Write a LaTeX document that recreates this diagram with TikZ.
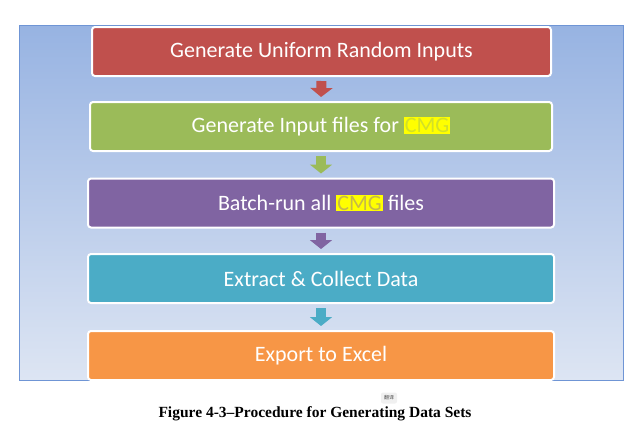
\documentclass[tikz,border=0pt]{standalone}
\usepackage{fontspec}
\setmainfont{Carlito}
\newfontfamily\capfont{Liberation Serif}
\newfontfamily\cjk{Noto Sans CJK SC}
\usetikzlibrary{arrows.meta,calc}
\definecolor{cRed}{HTML}{C0504D}
\definecolor{cGreen}{HTML}{9BBB59}
\definecolor{cPurple}{HTML}{8064A2}
\definecolor{cTeal}{HTML}{4BACC6}
\definecolor{cOrange}{HTML}{F79646}
\definecolor{hl}{HTML}{FFFF00}
\definecolor{frameTop}{HTML}{97B3E2}
\definecolor{frameBot}{HTML}{DDE5F3}
\definecolor{frameLine}{HTML}{6F95D5}
\newcommand{\hlword}[2]{{\setlength{\fboxsep}{1pt}\colorbox{hl}{\textcolor{hl!55!#1}{#2}}}}
\begin{document}
\begin{tikzpicture}[x=1pt,y=-1pt,
  step/.style={draw=white,line width=2pt,rounded corners=3pt,minimum width=#1,minimum height=49pt,
    text=white,font=\fontsize{22}{26}\selectfont,inner sep=0pt},
  step/.default=464pt,
  flow/.style={draw=#1,line width=10pt,-{Triangle[width=22pt 0,length=9pt 0]},shorten >=4pt,shorten <=4pt}]
\useasboundingbox (0,0) rectangle (644,432);
\shade[top color=frameTop,bottom color=frameBot] (19,25) rectangle (623,380);
\draw[frameLine,line width=0.8pt] (19,25) rectangle (623,380);
\node[step=459pt,fill=cRed] (s1) at (321.5,51.5) {Generate Uniform Random Inputs};
\node[step=462pt,fill=cGreen] (s2) at (321,126.5) {Generate Input files for \hlword{cGreen}{CMG}};
\node[step=466pt,fill=cPurple] (s3) at (321,203) {Batch-run all \hlword{cPurple}{CMG} files};
\node[step=466pt,fill=cTeal] (s4) at (321,278.5) {Extract \& Collect Data};
\node[step=466pt,fill=cOrange] (s5) at (321,355.5) {Export to Excel};
\draw[flow=cRed] (s1.south) -- (s2.north);
\draw[flow=cGreen] (s2.south) -- (s3.north);
\draw[flow=cPurple] (s3.south) -- (s4.north);
\draw[flow=cTeal] (s4.south) -- (s5.north);
\node[fill=black!6,rounded corners=2pt,font=\cjk\fontsize{5}{6}\selectfont,text=black!70,minimum width=16pt,minimum height=11pt,inner sep=1pt] (tr) at (389,398) {翻译};
\node[font=\capfont\bfseries\fontsize{15.5}{18}\selectfont] (cap) at (315,414) {Figure 4-3\textendash Procedure for Generating Data Sets};
\end{tikzpicture}
\end{document}
